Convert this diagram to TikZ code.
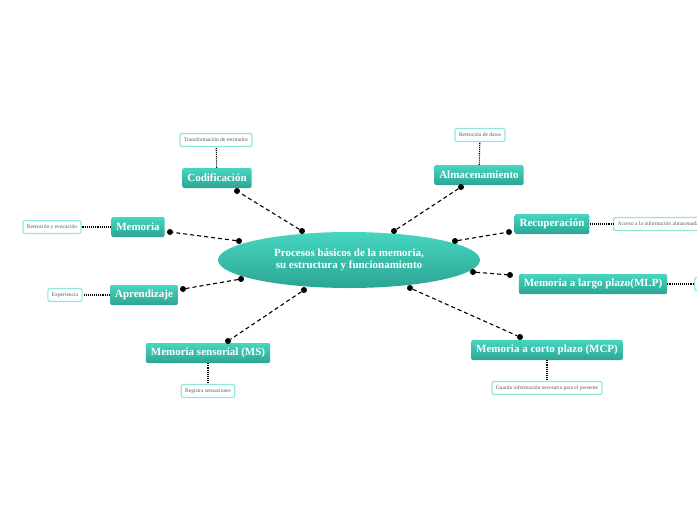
\documentclass[tikz,border=0pt]{standalone}
\usepackage{fontspec}
\setmainfont{Liberation Serif}
\usetikzlibrary{shapes.geometric}
\definecolor{tl}{HTML}{46D6C0}
\definecolor{td}{HTML}{2CA593}
\definecolor{tb}{HTML}{8FE8DC}
\tikzset{
 main/.style={rounded corners=2pt,top color=tl,bottom color=td,draw=none,text=white,font=\bfseries\fontsize{11}{12}\selectfont,minimum height=20pt,inner xsep=5pt},
 sub/.style={rounded corners=2pt,draw=tb,line width=1.2pt,fill=white,text=gray!70!black,font=\fontsize{5.5}{6}\selectfont,minimum height=13pt,inner xsep=4pt},
 conn/.style={dashed,line width=1.1pt,dash pattern=on 4pt off 3pt},
 sconn/.style={densely dotted,line width=1.1pt},
 dotc/.style={circle,fill=black,inner sep=0pt,minimum size=6pt}
}
\begin{document}
\begin{tikzpicture}[x=1pt,y=-1pt]
\useasboundingbox (0,0) rectangle (697,520);
\clip (0,0) rectangle (697,520);
\node[ellipse,top color=tl,bottom color=td,minimum width=262pt,minimum height=56pt,text=white,align=center,font=\bfseries\fontsize{11}{12}\selectfont] (c) at (349,260) {Procesos básicos de la memoria,\\su estructura y funcionamiento};
\node[main] (cod) at (217,178) {Codificación};
\node[sub] (cods) at (216,140) {Transformación de estimulos};
\node[main] (alm) at (479,175) {Almacenamiento};
\node[sub] (alms) at (480,135) {Retención de datos};
\node[main] (mem) at (138,227) {Memoria};
\node[sub] (mems) at (52,227) {Retención y evocación};
\node[main] (rec) at (552,224) {Recuperación};
\node[sub,anchor=west] (recs) at (613,224) {Acceso a la información almacenada};
\node[main] (mlp) at (593,284) {Memoria a largo plazo(MLP)};
\node[sub,anchor=west,minimum width=40pt] (mlps) at (694,284) {};
\node[main] (apr) at (144,295) {Aprendizaje};
\node[sub] (aprs) at (65,295) {Experiencia};
\node[main] (ms) at (208,353) {Memoria sensorial (MS)};
\node[sub] (mss) at (208,391) {Registra sensaciones};
\node[main] (mcp) at (547,350) {Memoria a corto plazo (MCP)};
\node[sub] (mcps) at (547,388) {Guarda información necesaria para el presente};
\foreach \a/\b in {302/231,394/231,239/241,455/241,473/272,241/279,304/290,410/288,237/191,461/187,170/232,509/232,510/275,183/289,228/341,520/337}
  \node[dotc] (d\a) at (\a,\b) {};
\draw[conn] (d302)--(d237); \draw[conn] (d394)--(d461);
\draw[conn] (d239)--(d170); \draw[conn] (d455)--(d509);
\draw[conn] (d473)--(d510); \draw[conn] (d241)--(d183);
\draw[conn] (d304)--(d228); \draw[conn] (d410)--(d520);
\draw[sconn] (cod)--(cods); \draw[sconn] (alm)--(alms);
\draw[sconn] (mem)--(mems); \draw[sconn] (rec)--(recs);
\draw[sconn] (mlp)--(mlps); \draw[sconn] (apr)--(aprs);
\draw[sconn] (ms)--(mss); \draw[sconn] (mcp)--(mcps);
\end{tikzpicture}
\end{document}
